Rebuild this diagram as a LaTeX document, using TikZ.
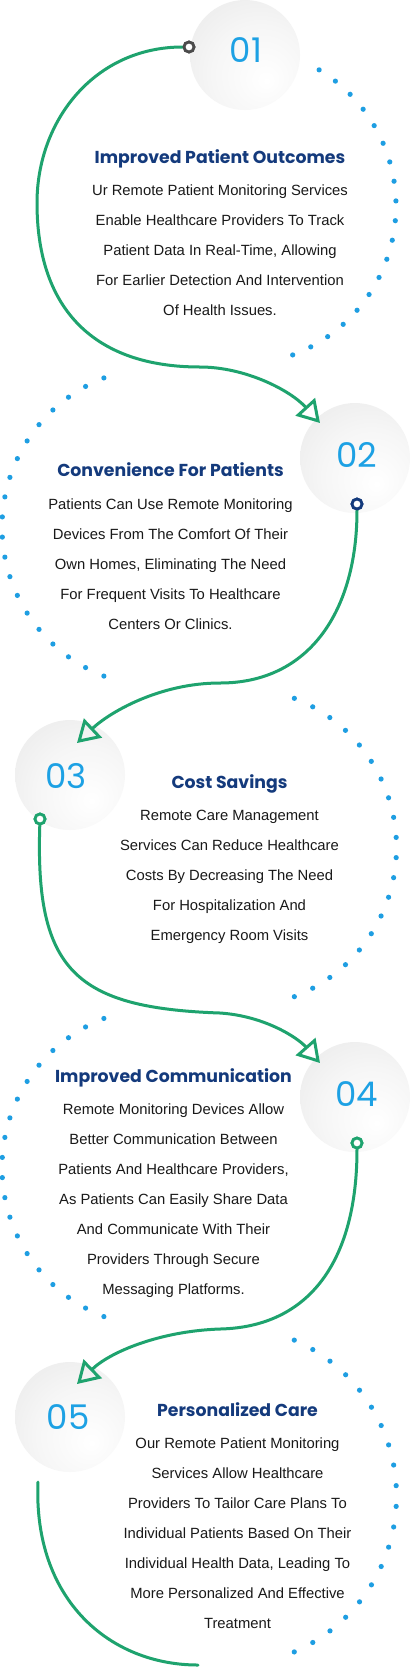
\documentclass[tikz,border=0pt]{standalone}
\usepackage{fontspec}
\setmainfont{Liberation Sans}
\newfontfamily\titlefont{Poppins}
\usetikzlibrary{arrows.meta}
\definecolor{greenc}{RGB}{30,163,110}
\definecolor{dotc}{RGB}{30,158,226}
\definecolor{numc}{RGB}{29,161,228}
\definecolor{navy}{RGB}{20,58,124}
\definecolor{markgray}{RGB}{75,75,75}
\definecolor{ballgray}{RGB}{220,220,220}
\definecolor{ballmid}{RGB}{246,246,246}
\pgfdeclareradialshading{ballsh}{\pgfpoint{10bp}{-12bp}}{color(0bp)=(white); color(22bp)=(ballmid); color(64bp)=(ballgray); color(80bp)=(ballgray)}
\tikzset{
  numball/.style={circle, minimum size=110pt, inner sep=0pt, outer sep=0pt, shading=ballsh},
  numtext/.style={font=\titlefont\fontsize{34}{34}\selectfont, text=numc, anchor=base, inner sep=0pt},
  sectitle/.style={font=\titlefont\bfseries\fontsize{17.3}{20}\selectfont, text=navy, anchor=base, inner sep=0pt},
  bodytext/.style={font=\fontsize{14.8}{18}\selectfont, text=black!90, anchor=base, inner sep=0pt},
  flowline/.style={draw=greenc, line width=3pt, line cap=round},
  arrowend/.style={-{Triangle[open, length=22pt, width=26pt]}},
  endring/.style={circle, draw, line width=2.8pt, fill=white, minimum size=10pt, inner sep=0pt},
}
\begin{document}
\begin{tikzpicture}[x=1pt, y=-1pt]
\useasboundingbox (0,0) rectangle (410,1668);
\fill[white] (0,0) rectangle (410,1668);
% balls
\node[numball] (b1) at (245,55) {};
\node[numball] (b2) at (355,458) {};
\node[numball] (b3) at (70,775) {};
\node[numball] (b4) at (355,1097) {};
\node[numball] (b5) at (70,1417) {};
% dotted arcs
\foreach \i in {0,...,18} \fill[dotc, shift={(237,206)}] ({-58.9+\i*7.1333}:159) circle (2.6pt);
\foreach \i in {0,...,19} \fill[dotc, shift={(162,527)}] ({248.7-\i*7.2316}:160) circle (2.6pt);
\foreach \i in {0,...,19} \fill[dotc, shift={(236.5,847.5)}] ({-68.8+\i*7.2421}:160) circle (2.6pt);
\foreach \i in {0,...,19} \fill[dotc, shift={(162,1167.5)}] ({248.7-\i*7.2316}:160) circle (2.6pt);
\foreach \i in {0,...,19} \fill[dotc, shift={(226.5,1496)}] ({-66.5+\i*7.0}:170) circle (2.6pt);
% markers and coordinates
\node[endring, draw=markgray] (m1) at (189,47) {};
\node[endring, draw=navy] (m2) at (357,504) {};
\node[endring, draw=greenc] (m3) at (40,819) {};
\node[endring, draw=greenc] (m4) at (357,1143) {};
\coordinate (t1) at (320,423);
\coordinate (t2) at (77,743);
\coordinate (t3) at (320,1063);
\coordinate (t4) at (77,1384);
\coordinate (s5) at (38,1482);
\coordinate (e5) at (198,1665);
% flow curves
\draw[flowline, arrowend] (m1) .. controls (95,47) and (37,120) .. (37,203) .. controls (37,310) and (95,367) .. (200,367) .. controls (245,367) and (290,390) .. (t1);
\draw[flowline, arrowend] (m2) .. controls (357,610) and (310,683) .. (220,683) .. controls (160,683) and (110,712) .. (t2);
\draw[flowline, arrowend] (m3) .. controls (35,970) and (75,1008) .. (220,1013) .. controls (265,1016) and (298,1038) .. (t3);
\draw[flowline, arrowend] (m4) .. controls (357,1260) and (310,1327) .. (220,1329) .. controls (160,1331) and (110,1352) .. (t4);
\draw[flowline] (s5) .. controls (33,1600) and (110,1665) .. (e5);
% redraw rings on top
\node[endring, draw=markgray] (m1b) at (m1) {};
\node[endring, draw=navy] (m2b) at (m2) {};
\node[endring, draw=greenc] (m3b) at (m3) {};
\node[endring, draw=greenc] (m4b) at (m4) {};
% numbers
\node[numtext] (n1) at (246,62) {01};
\node[numtext] (n2) at (356.5,467) {02};
\node[numtext] (n3) at (65.7,788) {03};
\node[numtext] (n4) at (356.5,1106) {04};
\node[numtext] (n5) at (68,1429) {05};
% section 1
\node[sectitle] (h1) at (220,163) {Improved Patient Outcomes};
\node[bodytext] (a1) at (220,195) {Ur Remote Patient Monitoring Services};
\node[bodytext] (a2) at (220,225) {Enable Healthcare Providers To Track};
\node[bodytext] (a3) at (220,255) {Patient Data In Real-Time, Allowing};
\node[bodytext] (a4) at (220,285) {For Earlier Detection And Intervention};
\node[bodytext] (a5) at (220,315) {Of Health Issues.};
% section 2
\node[sectitle] (h2) at (170.5,476) {Convenience For Patients};
\node[bodytext] (c1) at (170.5,509) {Patients Can Use Remote Monitoring};
\node[bodytext] (c2) at (170.5,539) {Devices From The Comfort Of Their};
\node[bodytext] (c3) at (170.5,569) {Own Homes, Eliminating The Need};
\node[bodytext] (c4) at (170.5,599) {For Frequent Visits To Healthcare};
\node[bodytext] (c5) at (170.5,629) {Centers Or Clinics.};
% section 3
\node[sectitle] (h3) at (229.5,788) {Cost Savings};
\node[bodytext] (d1) at (229.5,820) {Remote Care Management};
\node[bodytext] (d2) at (229.5,850) {Services Can Reduce Healthcare};
\node[bodytext] (d3) at (229.5,880) {Costs By Decreasing The Need};
\node[bodytext] (d4) at (229.5,910) {For Hospitalization And};
\node[bodytext] (d5) at (229.5,940) {Emergency Room Visits};
% section 4
\node[sectitle] (h4) at (173.5,1082) {Improved Communication};
\node[bodytext] (f1) at (173.5,1114) {Remote Monitoring Devices Allow};
\node[bodytext] (f2) at (173.5,1144) {Better Communication Between};
\node[bodytext] (f3) at (173.5,1174) {Patients And Healthcare Providers,};
\node[bodytext] (f4) at (173.5,1204) {As Patients Can Easily Share Data};
\node[bodytext] (f5) at (173.5,1234) {And Communicate With Their};
\node[bodytext] (f6) at (173.5,1264) {Providers Through Secure};
\node[bodytext] (f7) at (173.5,1294) {Messaging Platforms.};
% section 5
\node[sectitle] (h5) at (237.5,1416) {Personalized Care};
\node[bodytext] (g1) at (237.5,1448) {Our Remote Patient Monitoring};
\node[bodytext] (g2) at (237.5,1478) {Services Allow Healthcare};
\node[bodytext] (g3) at (237.5,1508) {Providers To Tailor Care Plans To};
\node[bodytext] (g4) at (237.5,1538) {Individual Patients Based On Their};
\node[bodytext] (g5) at (237.5,1568) {Individual Health Data, Leading To};
\node[bodytext] (g6) at (237.5,1598) {More Personalized And Effective};
\node[bodytext] (g7) at (237.5,1628) {Treatment};
\end{tikzpicture}
\end{document}
